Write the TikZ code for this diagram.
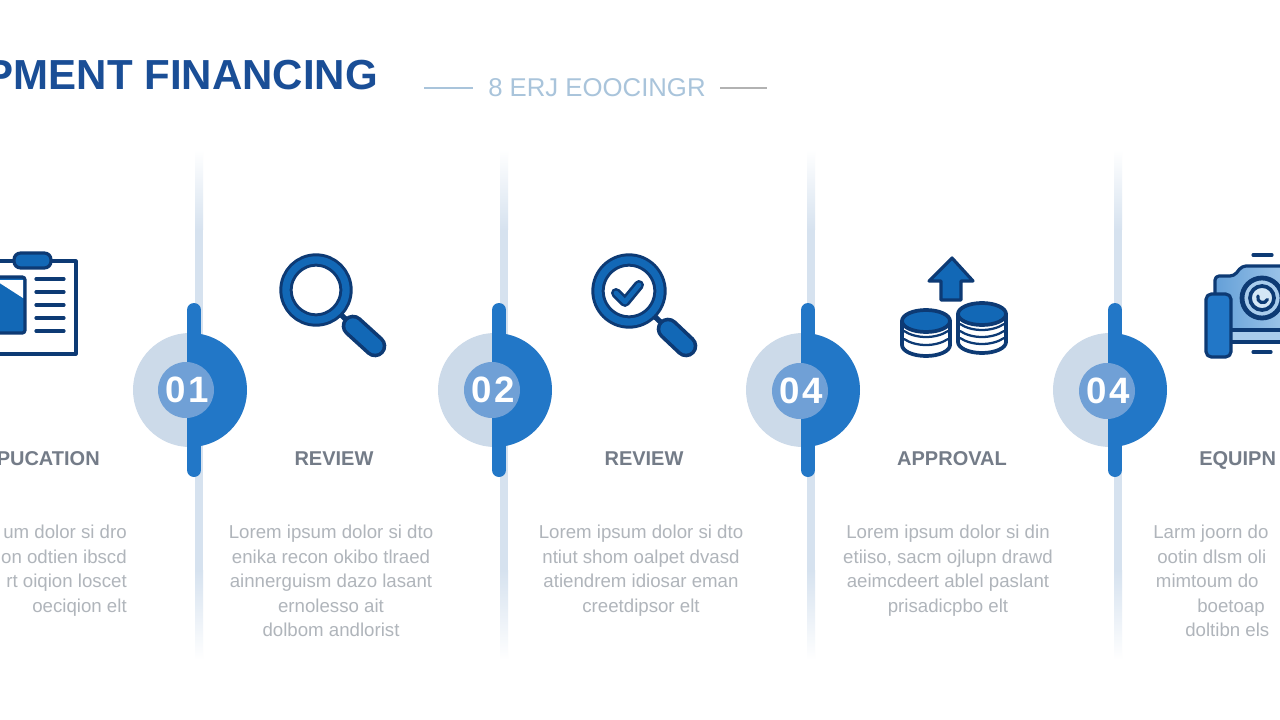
\documentclass[tikz,border=0pt]{standalone}
\usepackage{fontspec}
\setmainfont{Liberation Sans}
\usepackage{tikz}
\usetikzlibrary{positioning}
\definecolor{titleblue}{HTML}{1A4E96}
\definecolor{subblue}{HTML}{A9C4DB}
\definecolor{stepblue}{HTML}{2277C7}
\definecolor{stepface}{HTML}{CCDAE9}
\definecolor{stepinner}{HTML}{70A0D6}
\definecolor{stepline}{HTML}{D6E2EF}
\definecolor{icondark}{HTML}{0D3A74}
\definecolor{iconblue}{HTML}{1268B6}
\definecolor{iconsky}{HTML}{A9CCEC}
\definecolor{labelgrey}{HTML}{747C88}
\definecolor{bodygrey}{HTML}{B0B5BB}

\begin{document}
\begin{tikzpicture}[x=0.75pt,y=-0.75pt]
  \tikzstyle{number}=[text=white, font=\bfseries\fontsize{27.5}{27.5}\selectfont\addfontfeature{LetterSpace=6}]
  \tikzstyle{label}=[text=labelgrey, inner sep=0pt, font=\bfseries\fontsize{15}{15}\selectfont]
  \tikzstyle{body}=[text=bodygrey, inner sep=0pt, font=\fontsize{14}{18.4}\selectfont]
  \tikzstyle{bar}=[stepblue, line width=10.5pt, line cap=round]
  \tikzstyle{ruleline}=[line width=2pt]
  \tikzstyle{outline}=[icondark, line width=2.4pt, line join=round, line cap=round]
  \tikzstyle{coinedge}=[icondark, line width=2.8pt, line join=round, line cap=round]
  \tikzstyle{coinline}=[icondark, line width=1.7pt, line cap=round]
  \useasboundingbox (0,0) rectangle (1280,720);
  \fill[white] (0,0) rectangle (1280,720);
  % header
  \node[anchor=east, inner sep=0pt, text=titleblue, font=\bfseries\fontsize{31.5}{32}\selectfont] (title) at (378,75) {PMENT FINANCING};
  \node[anchor=west, inner sep=0pt, text=subblue, font=\fontsize{19.3}{20}\selectfont] (subtitle) at (488,88) {8 ERJ EOOCINGR};
  \coordinate (rule_a) at (424,88);
  \coordinate (rule_b) at (473,88);
  \coordinate (rule_c) at (720,88);
  \coordinate (rule_d) at (767,88);
  \draw[ruleline, color=subblue] (rule_a) -- (rule_b);
  \draw[ruleline, color=gray!60] (rule_c) -- (rule_d);
  % pale dividers
  \shade[top color=white, bottom color=stepline] (195,150) rectangle (203,230);
  \fill[stepline] (195,230) rectangle (203,570);
  \shade[top color=stepline, bottom color=white] (195,570) rectangle (203,660);
  \shade[top color=white, bottom color=stepline] (500,150) rectangle (508,230);
  \fill[stepline] (500,230) rectangle (508,570);
  \shade[top color=stepline, bottom color=white] (500,570) rectangle (508,660);
  \shade[top color=white, bottom color=stepline] (807,150) rectangle (815,230);
  \fill[stepline] (807,230) rectangle (815,570);
  \shade[top color=stepline, bottom color=white] (807,570) rectangle (815,660);
  \shade[top color=white, bottom color=stepline] (1114,150) rectangle (1122,230);
  \fill[stepline] (1114,230) rectangle (1122,570);
  \shade[top color=stepline, bottom color=white] (1114,570) rectangle (1122,660);
  % step discs
  \fill[stepface] (190,390) circle (57);
  \fill[stepblue] (190,390) ++(-87:57) arc (-87:87:57) -- cycle;
  \draw[bar] (194,310) -- (194,470);
  \fill[stepinner] (186,390) circle (28);
  \node[number] (num_1) at (187,390) {01};
  \fill[stepface] (495,390) circle (57);
  \fill[stepblue] (495,390) ++(-87:57) arc (-87:87:57) -- cycle;
  \draw[bar] (499,310) -- (499,470);
  \fill[stepinner] (492,390) circle (28);
  \node[number] (num_2) at (493,390) {02};
  \fill[stepface] (803,390) circle (57);
  \fill[stepblue] (803,390) ++(-87:57) arc (-87:87:57) -- cycle;
  \draw[bar] (808,310) -- (808,470);
  \fill[stepinner] (800,391) circle (28);
  \node[number] (num_3) at (801,391) {04};
  \fill[stepface] (1110,390) circle (57);
  \fill[stepblue] (1110,390) ++(-87:57) arc (-87:87:57) -- cycle;
  \draw[bar] (1115,310) -- (1115,470);
  \fill[stepinner] (1107,391) circle (28);
  \node[number] (num_4) at (1108,391) {04};
  % clipboard
  \draw[outline, fill=white] (-10,261) rectangle (76,354);
  \draw[outline, fill=iconblue, rounded corners=5pt] (14,253) rectangle (51,268);
  \draw[outline, fill=iconblue, rounded corners=2pt] (-10,277) rectangle (25,333);
  \fill[white] (-5,280) -- (23,280) -- (23,298) -- (-5,280) -- cycle;
  \draw[outline] (36,279) -- (64,279);
  \draw[outline] (36,292) -- (64,292);
  \draw[outline] (36,305) -- (64,305);
  \draw[outline] (36,318) -- (64,318);
  \draw[outline] (36,331) -- (64,331);
  % magnifier
  \draw[icondark, line width=4pt] (338,312) -- (352,325);
  \draw[icondark, line width=17pt, line cap=round] (353,326) -- (375,346);
  \draw[iconblue, line width=11.5pt, line cap=round] (353,326) -- (375,346);
  \draw[icondark, line width=10pt] (316,290) circle (30);
  \draw[iconblue, line width=5.5pt] (316,290) circle (30);
  % magnifier with check
  \draw[icondark, line width=4pt] (652,314) -- (668,329);
  \draw[icondark, line width=17pt, line cap=round] (668,329) -- (686,346);
  \draw[iconblue, line width=11.5pt, line cap=round] (668,329) -- (686,346);
  \draw[icondark, line width=10pt] (629,291) circle (31);
  \draw[iconblue, line width=5.5pt] (629,291) circle (31);
  \draw[icondark, line width=7.5pt, line cap=round, line join=round] (616,293) -- (625,302) -- (639,285);
  \draw[iconblue, line width=3.5pt, line cap=round, line join=round] (616,293) -- (625,302) -- (639,285);
  % arrow and coins
  \draw[outline, fill=iconblue] (952,258) -- (973,281) -- (961,281) -- (961,300) -- (941,300) -- (941,281) -- (929,281) -- cycle;
  \begin{scope}[shift={(902,309)}]
    \draw[coinedge, fill=white] (0,12) -- (0,36) arc (180:0:24 and 11) -- (48,12);
    \draw[coinedge, fill=iconblue] (24,12) ellipse (24 and 11);
    \draw[coinline] (2,22) .. controls (14,30) and (34,30) .. (46,22);
    \draw[coinline] (2,30) .. controls (14,38) and (34,38) .. (46,30);
  \end{scope}
  \begin{scope}[shift={(958,302)}]
    \draw[coinedge, fill=white] (0,12) -- (0,40) arc (180:0:24 and 11) -- (48,12);
    \draw[coinedge, fill=iconblue] (24,12) ellipse (24 and 11);
    \draw[coinline] (2,22) .. controls (14,30) and (34,30) .. (46,22);
    \draw[coinline] (2,29) .. controls (14,37) and (34,37) .. (46,29);
    \draw[coinline] (2,36) .. controls (14,44) and (34,44) .. (46,36);
  \end{scope}
  % camera
  \draw[outline, left color=stepblue!70, right color=iconsky, rounded corners=3pt] (1215,330) -- (1215,276) -- (1234,276) -- (1242,266) -- (1300,266) -- (1300,330) -- cycle;
  \draw[outline, fill=iconsky] (1225,330) rectangle (1300,342);
  \draw[outline, fill=stepblue, rounded corners=4pt] (1206,294) rectangle (1231,357);
  \draw[icondark, line width=3.6pt, fill=iconsky] (1262,298) circle (20);
  \draw[coinedge, fill=iconsky!50] (1262,298) circle (12);
  \draw[outline] (1258,296) arc (200:20:5);
  \draw[outline] (1253,255) -- (1272,255);
  \draw[outline] (1253,352) -- (1271,352);
  % labels
  \node[label, anchor=base east] (label_1) at (100,465) {PUCATION};
  \node[label, anchor=base] (label_2) at (334,465) {REVIEW};
  \node[label, anchor=base] (label_3) at (644,465) {REVIEW};
  \node[label, anchor=base] (label_4) at (952,465) {APPROVAL};
  \node[label, anchor=base west] (label_5) at (1199,465) {EQUIPN};
  % body texts
  \node[body, anchor=north east, align=right] (text_1) at (127,525) {um dolor si dro\\on odtien ibscd\\rt oiqion loscet\\oeciqion elt\hspace{29pt}};
  \node[body, anchor=north, align=center] (text_2) at (331,525) {Lorem ipsum dolor si dto\\enika recon okibo tlraed\\ainnerguism dazo lasant\\ernolesso ait\\dolbom andlorist};
  \node[body, anchor=north, align=center] (text_3) at (641,525) {Lorem ipsum dolor si dto\\ntiut shom oalpet dvasd\\atiendrem idiosar eman\\creetdipsor elt};
  \node[body, anchor=north, align=center] (text_4) at (948,525) {Lorem ipsum dolor si din\\etiiso, sacm ojlupn drawd\\aeimcdeert ablel paslant\\prisadicpbo elt};
  \node[body, anchor=north west, align=left] (text_5) at (1153,525) {Larm joorn do\\\hspace*{3pt}ootin dlsm oli\\\hspace*{2pt}mimtoum do\\\hspace*{33pt}boetoap\\\hspace*{24pt}doltibn els};
\end{tikzpicture}
\end{document}
